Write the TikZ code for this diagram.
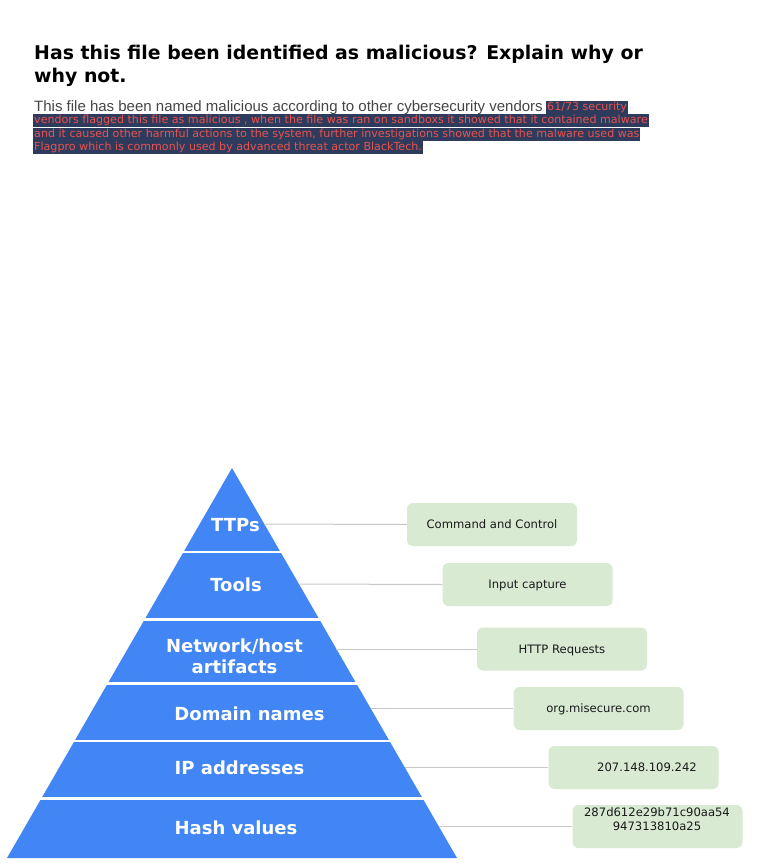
\documentclass[tikz,border=0pt]{standalone}
\usepackage{fontspec}
\setmainfont{DejaVu Sans}
\newfontfamily\arialf{Liberation Sans}
\definecolor{pyblue}{HTML}{4285F4}
\definecolor{boxgreen}{HTML}{D9EAD3}
\definecolor{linkgray}{HTML}{C8C8C8}
\definecolor{hlbg}{HTML}{2E3B5C}
\definecolor{hltext}{HTML}{E8534F}
\definecolor{paragray}{HTML}{454545}
\tikzset{
  level/.style={text=white,font=\bfseries\fontsize{18}{21}\selectfont,align=center,inner sep=0pt},
  infobox/.style={fill=boxgreen,rounded corners=6pt,minimum width=170pt,minimum height=43pt,inner sep=0pt,
     font=\fontsize{11.6}{14}\selectfont,text=black!90,text height=8.5pt,text depth=0pt},
  boxtext/.style={font=\fontsize{11.6}{14}\selectfont,text=black!90,align=center,inner sep=0pt},
  link/.style={draw=linkgray,line width=1pt},
  hl/.style={fill=hlbg,text=hltext,anchor=west,inner xsep=1pt,inner ysep=0pt,text height=9.5pt,text depth=3.5pt,
     font=\fontsize{11.1}{13}\selectfont},
  sep/.style={draw=white,line width=2.6pt}
}
\begin{document}
\begin{tikzpicture}[x=1pt,y=-1pt]
\useasboundingbox (0,0) rectangle (768,866);
% header text
\node[anchor=base west,inner sep=0pt,font=\bfseries\fontsize{18.9}{22}\selectfont] (t1) at (34,59.5) {Has this file been identified as malicious? Explain why or};
\node[anchor=base west,inner sep=0pt,font=\bfseries\fontsize{18.9}{22}\selectfont] (t2) at (34,83) {why not.};
\node[anchor=base west,inner sep=0pt,text=paragray,font=\arialf\fontsize{15}{17}\selectfont] (p1) at (34,111.5) {This file has been named malicious according to other cybersecurity vendors};
\node[hl] (h1) at (546,107.5) {61/73 security};
\node[hl] (h2) at (33,121) {vendors flagged this file as malicious , when the file was ran on sandboxs it showed that it contained malware};
\node[hl] (h3) at (33,134.5) {and it caused other harmful actions to the system, further investigations showed that the malware used was};
\node[hl] (h4) at (33,148) {Flagpro which is commonly used by advanced threat actor BlackTech.\hspace{14pt}};
% pyramid
\fill[pyblue] (232,468) -- (457,858) -- (7,858) -- cycle;
\foreach \yy in {552,619.5,683.5,741,798.5}
  \draw[sep] (0,\yy) -- (470,\yy);
% level labels
\node[level,anchor=base] (l1) at (235.5,531.7) {TTPs};
\node[level,anchor=base] (l2) at (236,591.7) {Tools};
\node[level,anchor=base] (l3) at (234.5,673) {Network/host\\[-0.4pt]artifacts};
\node[level,anchor=base] (l4) at (249.5,720.7) {Domain names};
\node[level,anchor=base] (l5) at (239.5,774) {IP addresses};
\node[level,anchor=base] (l6) at (236,834) {Hash values};
% edge coordinates on the pyramid's right side
\coordinate (e1) at ({232+(524-468)*0.5769},524);
\coordinate (e2) at ({232+(584-468)*0.5769},584);
\coordinate (e3) at ({232+(649-468)*0.5769},649);
\coordinate (e4) at ({232+(708.5-468)*0.5769},708.5);
\coordinate (e5) at ({232+(767.5-468)*0.5769},767.5);
\coordinate (e6) at ({232+(826.5-468)*0.5769},826.5);
% boxes
\node[infobox] (b1) at (492,524.5) {Command and Control};
\node[infobox] (b2) at (527.5,584.5) {Input capture};
\node[infobox] (b3) at (562,649) {HTTP Requests};
\node[infobox] (b4) at (598.5,708.5) {org.misecure.com};
\node[infobox] (b5) at (633.5,767.5) {};
\node[boxtext] (b5t) at (647,767.5) {207.148.109.242};
\node[infobox] (b6) at (657.5,826.5) {};
\node[boxtext] (b6t) at (657,819) {287d612e29b71c90aa54\\947313810a25};
% connectors
\draw[link] (e1) -- (b1.west);
\draw[link] (e2) -- (b2.west);
\draw[link] (e3) -- (b3.west);
\draw[link] (e4) -- (b4.west);
\draw[link] (e5) -- (b5.west);
\draw[link] (e6) -- (b6.west);
\end{tikzpicture}
\end{document}
